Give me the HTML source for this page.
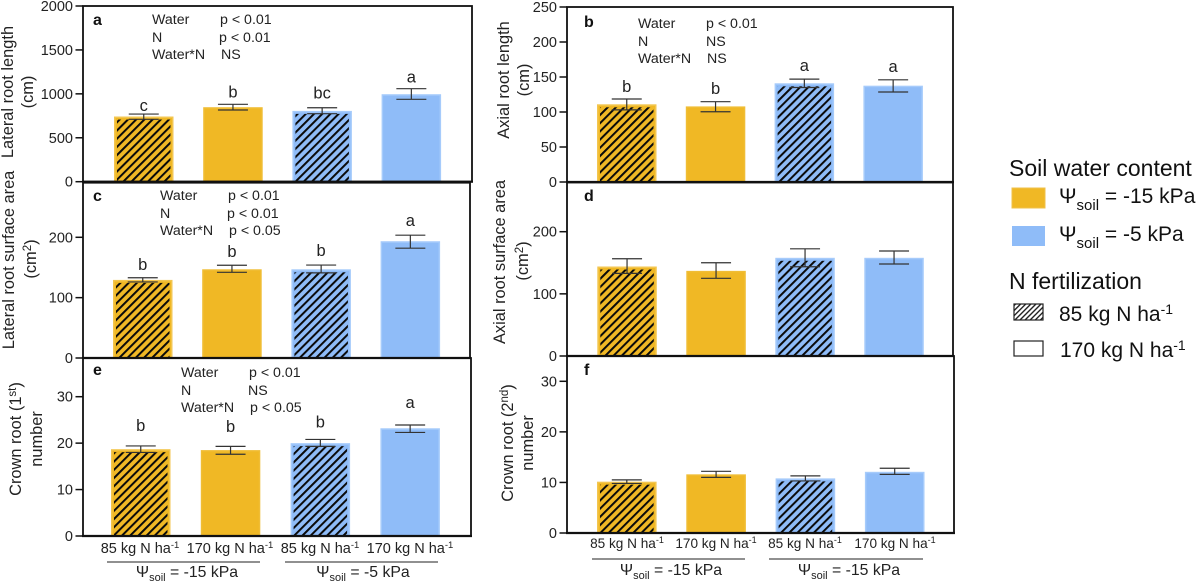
<!DOCTYPE html>
<html>
<head>
<meta charset="utf-8">
<title>Root traits under soil water and N fertilization</title>
<style>
html,body{margin:0;padding:0;background:#fff;width:1200px;height:584px;overflow:hidden}
svg{display:block}
text{font-family:"Liberation Sans",sans-serif;fill:#222}
.stat{font-size:14.2px}
.panel-letter{font-size:16px;font-weight:bold;fill:#111}
.ytitle{font-size:16.4px;text-anchor:middle}
.tick{font-size:14.5px;text-anchor:end}
.sig{font-size:16.5px;text-anchor:middle}
.xl{font-size:14.5px;text-anchor:middle}
.xf{font-size:13.6px;text-anchor:middle}
.grp{font-size:15.8px;text-anchor:middle}
.lt{font-size:23px;fill:#111}
.le{font-size:21px;fill:#111}
</style>
</head>
<body>
<svg id="fig" xmlns="http://www.w3.org/2000/svg" width="1200" height="584" viewBox="0 0 1200 584">
  <defs>
    <pattern id="hatch" patternUnits="userSpaceOnUse" width="5.8" height="5.8" patternTransform="rotate(45)">
      <rect x="0" y="0" width="2" height="5.8" fill="#0a0a0a"/>
    </pattern>
    <pattern id="hatch-legend" patternUnits="userSpaceOnUse" width="3.6" height="3.6" patternTransform="rotate(45)">
      <rect x="0" y="0" width="1.4" height="3.6" fill="#222"/>
    </pattern>
  </defs>

  <g id="panels"></g>

  <g>
    <text class="ytitle" transform="translate(13,92) rotate(-90)">Lateral root length</text>
    <text class="ytitle" transform="translate(33,92) rotate(-90)">(cm)</text>
    <text class="ytitle" transform="translate(14,260) rotate(-90)">Lateral root surface area</text>
    <text class="ytitle" transform="translate(36,259) rotate(-90)">(cm<tspan font-size="11.5" dy="-5">2</tspan><tspan dy="5">)</tspan></text>
    <text class="ytitle" transform="translate(21,439) rotate(-90)">Crown root (1<tspan font-size="11.5" dy="-5">st</tspan><tspan dy="5">)</tspan></text>
    <text class="ytitle" transform="translate(42,439) rotate(-90)">number</text>
    <text class="ytitle" transform="translate(509,80) rotate(-90)">Axial root length</text>
    <text class="ytitle" transform="translate(529,80) rotate(-90)">(cm)</text>
    <text class="ytitle" transform="translate(505,262) rotate(-90)">Axial root surface area</text>
    <text class="ytitle" transform="translate(528,261) rotate(-90)">(cm<tspan font-size="11.5" dy="-5">2</tspan><tspan dy="5">)</tspan></text>
    <text class="ytitle" transform="translate(513,443) rotate(-90)">Crown root (2<tspan font-size="11.5" dy="-5">nd</tspan><tspan dy="5">)</tspan></text>
    <text class="ytitle" transform="translate(533,443) rotate(-90)">number</text>
  </g>

  <g>
    <text class="panel-letter" x="93" y="25">a</text>
    <text class="panel-letter" x="584" y="27">b</text>
    <text class="panel-letter" x="93" y="201">c</text>
    <text class="panel-letter" x="584" y="201">d</text>
    <text class="panel-letter" x="93" y="375">e</text>
    <text class="panel-letter" x="584" y="375">f</text>
  </g>

  <g class="stat">
    <text x="152" y="24">Water</text><text x="220" y="24">p &lt; 0.01</text>
    <text x="152" y="42">N</text><text x="219" y="42">p &lt; 0.01</text>
    <text x="152" y="59">Water*N</text><text x="221" y="59">NS</text>
  </g>
  <g class="stat">
    <text x="638" y="28">Water</text><text x="706" y="28">p &lt; 0.01</text>
    <text x="638" y="46">N</text><text x="706" y="46">NS</text>
    <text x="638" y="63">Water*N</text><text x="707" y="63">NS</text>
  </g>
  <g class="stat">
    <text x="160" y="200">Water</text><text x="228" y="200">p &lt; 0.01</text>
    <text x="160" y="218">N</text><text x="227" y="218">p &lt; 0.01</text>
    <text x="160" y="235">Water*N</text><text x="229" y="235">p &lt; 0.05</text>
  </g>
  <g class="stat">
    <text x="181" y="377">Water</text><text x="249" y="377">p &lt; 0.01</text>
    <text x="181" y="395">N</text><text x="248" y="395">NS</text>
    <text x="181" y="412">Water*N</text><text x="250" y="412">p &lt; 0.05</text>
  </g>

  <g>
    <text class="xl" x="140" y="553">85 kg N ha<tspan font-size="9.5" dy="-5">-1</tspan></text>
    <text class="xl" x="230" y="553">170 kg N ha<tspan font-size="9.5" dy="-5">-1</tspan></text>
    <text class="xl" x="320" y="553">85 kg N ha<tspan font-size="9.5" dy="-5">-1</tspan></text>
    <text class="xl" x="410" y="553">170 kg N ha<tspan font-size="9.5" dy="-5">-1</tspan></text>
    <line x1="107" x2="260" y1="562" y2="562" stroke="#222" stroke-width="1"/>
    <line x1="285" x2="438" y1="562" y2="562" stroke="#222" stroke-width="1"/>
    <text class="grp" x="187" y="577">&#936;<tspan font-size="11" dy="4">soil</tspan><tspan dy="-4"> = -15 kPa</tspan></text>
    <text class="grp" x="363" y="577">&#936;<tspan font-size="11" dy="4">soil</tspan><tspan dy="-4"> = -5 kPa</tspan></text>
  </g>
  <g>
    <text class="xf" x="627" y="548">85 kg N ha<tspan font-size="9" dy="-5">-1</tspan></text>
    <text class="xf" x="716" y="548">170 kg N ha<tspan font-size="9" dy="-5">-1</tspan></text>
    <text class="xf" x="805" y="548">85 kg N ha<tspan font-size="9" dy="-5">-1</tspan></text>
    <text class="xf" x="895" y="548">170 kg N ha<tspan font-size="9" dy="-5">-1</tspan></text>
    <line x1="592" x2="745" y1="559" y2="559" stroke="#222" stroke-width="1"/>
    <line x1="769" x2="923" y1="559" y2="559" stroke="#222" stroke-width="1"/>
    <text class="grp" x="671" y="575">&#936;<tspan font-size="11" dy="4">soil</tspan><tspan dy="-4"> = -15 kPa</tspan></text>
    <text class="grp" x="849" y="575">&#936;<tspan font-size="11" dy="4">soil</tspan><tspan dy="-4"> = -15 kPa</tspan></text>
  </g>

  <g>
    <text class="lt" x="1009" y="176">Soil water content</text>
    <rect x="1012" y="188" width="33" height="20" fill="#f0b825" stroke="#efc04a" stroke-width="1"/>
    <text class="le" x="1059" y="203">&#936;<tspan font-size="15" dy="7">soil</tspan><tspan dy="-7"> = -15 kPa</tspan></text>
    <rect x="1012" y="226" width="33" height="20" fill="#8fbcf8"/>
    <text class="le" x="1059" y="241">&#936;<tspan font-size="15" dy="7">soil</tspan><tspan dy="-7"> = -5 kPa</tspan></text>
    <text class="lt" x="1009" y="289">N fertilization</text>
    <rect x="1014" y="304" width="29" height="16" fill="url(#hatch-legend)" stroke="#222" stroke-width="1.2"/>
    <text class="le" x="1059" y="321">85 kg N ha<tspan font-size="14" dy="-7">-1</tspan></text>
    <rect x="1014" y="341" width="29" height="15" fill="#fff" stroke="#222" stroke-width="1.2"/>
    <text class="le" x="1060" y="357">170 kg N ha<tspan font-size="14" dy="-7">-1</tspan></text>
  </g>
</svg>

<script>
// ---------- data ----------
const treatments = ['85N-15kPa', '170N-15kPa', '85N-5kPa', '170N-5kPa'];

const aValues = [742, 848, 806, 996];
const aUpper = [770, 881, 842, 1059];
const aLower = [710, 816, 774, 938];
const aTicks = [0, 500, 1000, 1500, 2000];
const aLetters = ['c', 'b', 'bc', 'a'];

const bValues = [111, 108, 141, 137.6];
const bUpper = [118.6, 114.7, 147, 146];
const bLower = [103, 100.4, 135, 128.6];
const bTicks = [0, 50, 100, 150, 200, 250];
const bLetters = ['b', 'b', 'a', 'a'];

const cValues = [129.4, 147, 147, 193.5];
const cUpper = [133, 153.7, 154, 203.5];
const cLower = [126, 142, 141, 182];
const cTicks = [0, 100, 200];
const cLetters = ['b', 'b', 'b', 'a'];

const dValues = [144, 137, 158, 158];
const dUpper = [156.5, 150, 172.5, 169];
const dLower = [133, 125, 143.6, 148];
const dTicks = [0, 100, 200];
const dLetters = [];

const eValues = [18.7, 18.5, 20, 23.2];
const eUpper = [19.4, 19.3, 20.8, 23.9];
const eLower = [18, 17.6, 19.3, 22.3];
const eTicks = [0, 10, 20, 30];
const eLetters = ['b', 'b', 'b', 'a'];

const fValues = [10.15, 11.6, 10.8, 12.1];
const fUpper = [10.5, 12.2, 11.3, 12.8];
const fLower = [9.8, 11, 10.3, 11.6];
const fTicks = [0, 10, 20, 30];
const fLetters = [];

// ---------- drawing ----------
const NS = 'http://www.w3.org/2000/svg';
const root = document.getElementById('panels');

function el(parent, tag, attrs) {
  const n = document.createElementNS(NS, tag);
  for (const k in attrs) n.setAttribute(k, attrs[k]);
  parent.appendChild(n);
  return n;
}

const barFill = ['#f0b825', '#f0b825', '#8fbcf8', '#8fbcf8'];
const barEdge = ['#f3c650', '#f0bd35', '#a6cbfb', '#a6cbfb'];
const hatched = [true, false, true, false];

function drawPanel(p) {
  const g = el(root, 'g', {});
  
  

  // y axis: value -> pixel, anchored at 0 and the reference tick
  const y = v => p.y0 - (v / p.refValue) * (p.y0 - p.refY);

  p.values.forEach((v, i) => {
    const left = p.barLeft + i * p.barStep;
    const top = y(v);
    const bar = el(g, 'rect', {
      x: left + 0.75, y: top + 0.75, width: p.barW - 1.5, height: p.y0 - top - 0.75,
      fill: barFill[i], stroke: barEdge[i], 'stroke-width': 1.5
    });
    
    
    if (hatched[i]) {
      const h = el(g, 'rect', {
        x: left + 3, y: top + 3, width: p.barW - 6, height: p.y0 - top - 3,
        fill: 'url(#hatch)'
      });
      
      
    }
    const cx = left + p.barW / 2;
    const up = y(p.upper[i]);
    const lo = y(p.lower[i]);
    const eb = el(g, 'path', {
      d: 'M' + (cx - 15) + ' ' + up + 'H' + (cx + 15) + 'M' + cx + ' ' + up + 'V' + lo + 'M' + (cx - 15) + ' ' + lo + 'H' + (cx + 15),
      fill: 'none', stroke: '#333', 'stroke-width': 1.2
    });
    
    
    if (p.letters[i]) {
      const t = el(g, 'text', { class: 'sig', x: cx, y: up - p.letterGap[i] });
      t.textContent = p.letters[i];
      
      
    }
  });

  // frame
  const frame = el(g, 'rect', {
    x: p.left, y: p.top, width: p.right - p.left, height: p.y0 - p.top,
    fill: 'none', stroke: '#111', 'stroke-width': 1.8
  });
  
  
  const base = el(g, 'line', {
    x1: p.left - 1, x2: p.right + 1, y1: p.y0, y2: p.y0, stroke: '#111', 'stroke-width': 2.2
  });
  
  

  // ticks
  p.ticks.forEach(v => {
    const ty = y(v);
    const tk = el(g, 'line', {
      x1: p.left - 7.5, x2: p.left, y1: ty, y2: ty, stroke: '#111', 'stroke-width': 1.5
    });
    
    
    const lb = el(g, 'text', { class: 'tick', x: p.left - 10, y: ty + 5 });
    lb.textContent = v;
    
    
  });
}

drawPanel({ id: 'a', values: aValues, upper: aUpper, lower: aLower, ticks: aTicks, letters: aLetters,
  left: 83, right: 472, top: 6, y0: 181.7, refValue: 2000, refY: 6,
  barLeft: 114, barStep: 89.2, barW: 59.5, letterGap: [3, 7, 9, 6] });
drawPanel({ id: 'b', values: bValues, upper: bUpper, lower: bLower, ticks: bTicks, letters: bLetters,
  left: 567, right: 953, top: 7, y0: 182, refValue: 250, refY: 7,
  barLeft: 597, barStep: 88.8, barW: 59.5, letterGap: [7, 7.5, 8, 7.7] });
drawPanel({ id: 'c', values: cValues, upper: cUpper, lower: cLower, ticks: cTicks, letters: cLetters,
  left: 83, right: 470, top: 182.7, y0: 358, refValue: 200, refY: 237.3,
  barLeft: 113, barStep: 89.2, barW: 59.5, letterGap: [7.7, 8.3, 9, 9.3] });
drawPanel({ id: 'd', values: dValues, upper: dUpper, lower: dLower, ticks: dTicks, letters: dLetters,
  left: 567, right: 953, top: 182.5, y0: 356, refValue: 200, refY: 231.7,
  barLeft: 597.3, barStep: 89, barW: 59.5, letterGap: [] });
drawPanel({ id: 'e', values: eValues, upper: eUpper, lower: eLower, ticks: eTicks, letters: eLetters,
  left: 83, right: 471, top: 358, y0: 536, refValue: 30, refY: 396.7,
  barLeft: 111, barStep: 89.8, barW: 59.5, letterGap: [15, 14.3, 11.7, 17] });
drawPanel({ id: 'f', values: fValues, upper: fUpper, lower: fLower, ticks: fTicks, letters: fLetters,
  left: 567, right: 954, top: 356, y0: 533, refValue: 30, refY: 381.3,
  barLeft: 597, barStep: 89.3, barW: 59.6, letterGap: [] });
</script>
</body>
</html>
